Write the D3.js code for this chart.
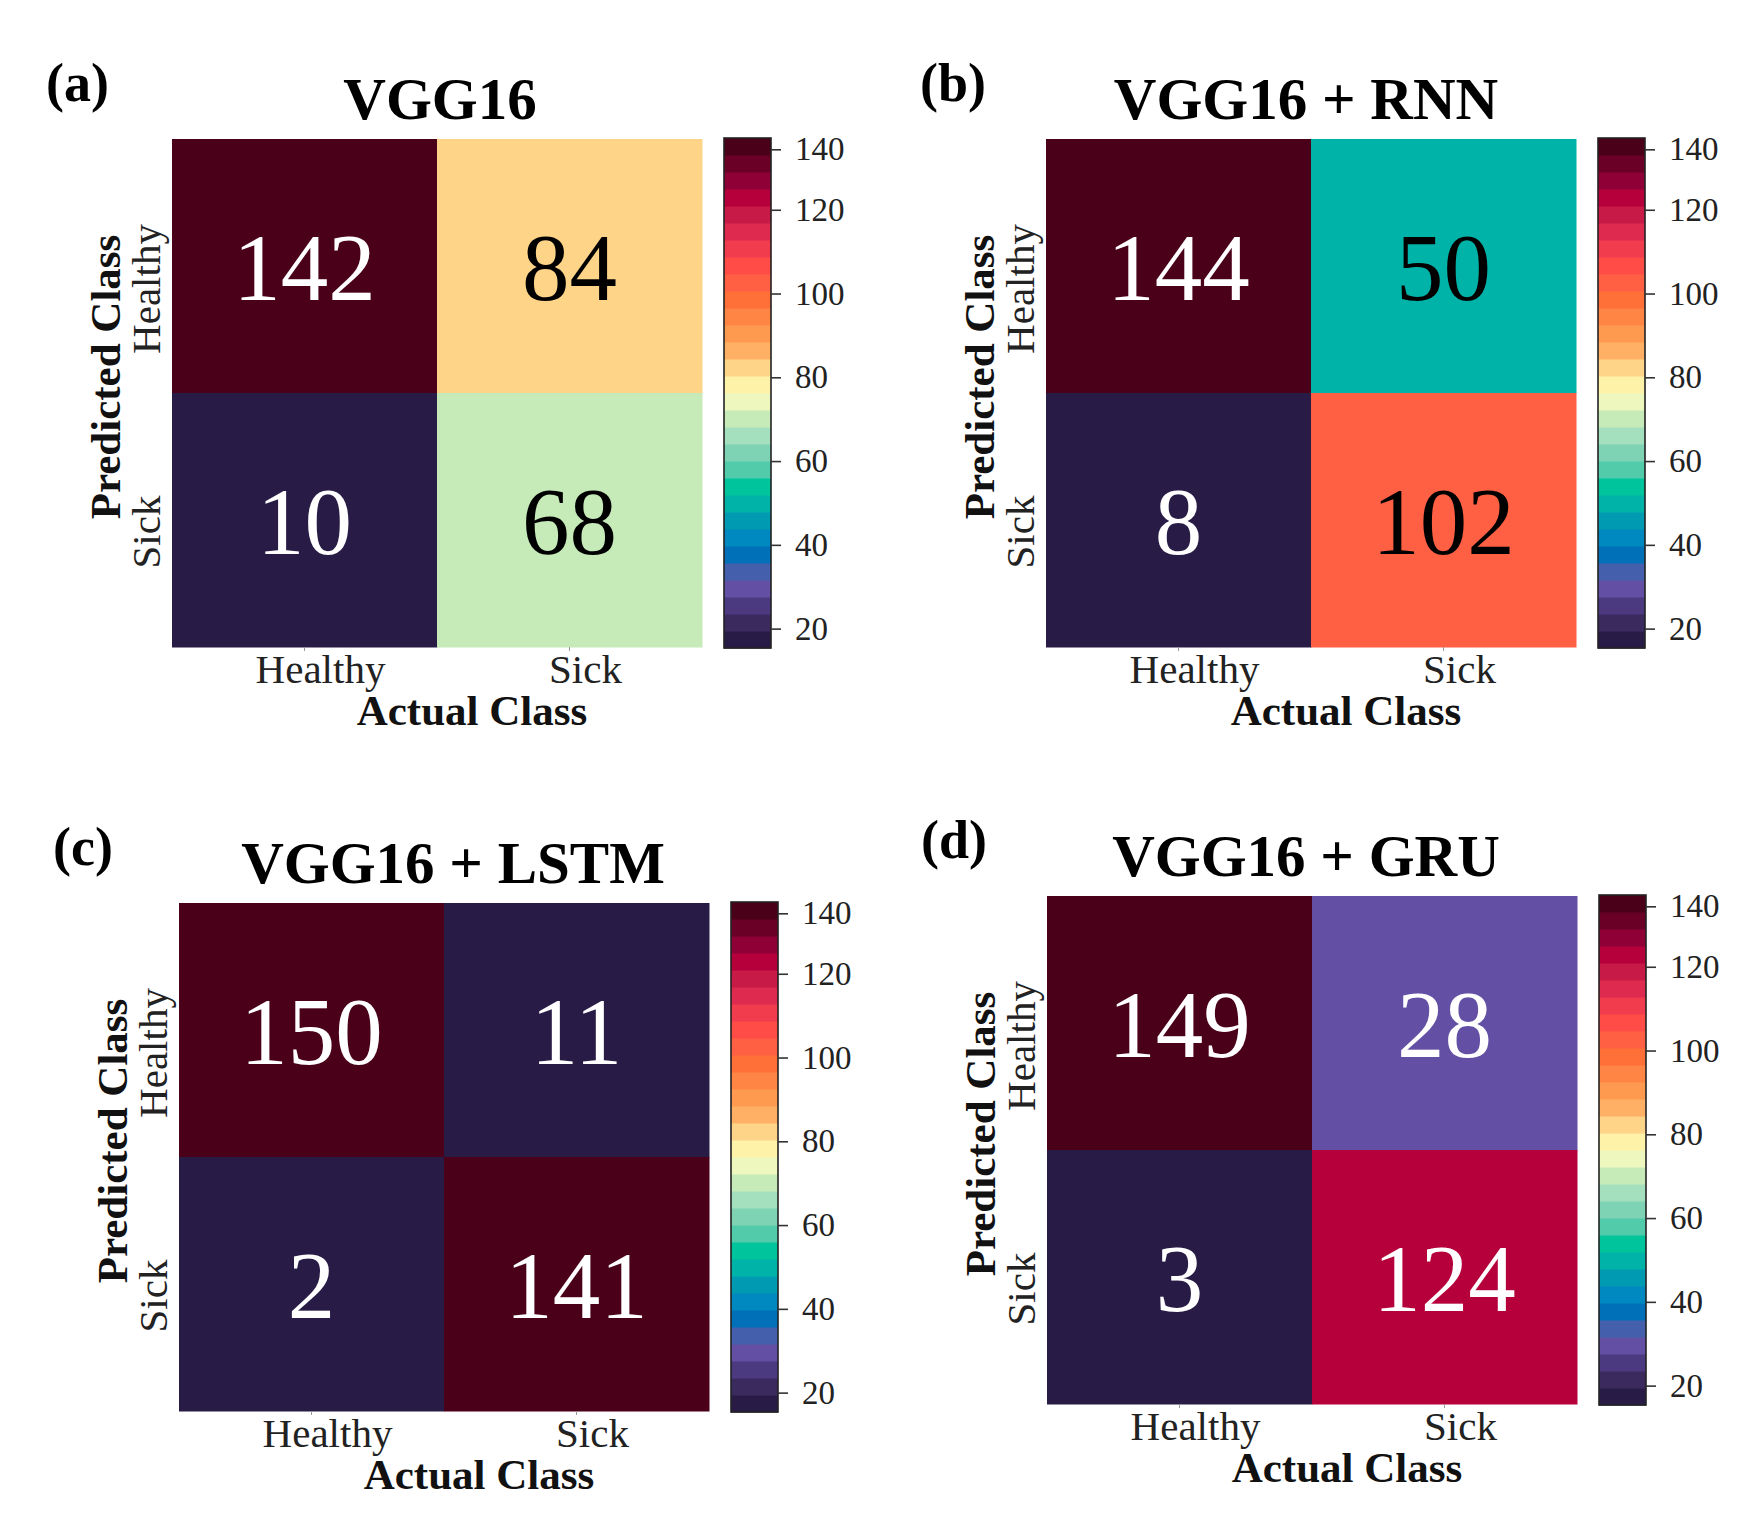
<!DOCTYPE html>
<html>
<head>
<meta charset="utf-8">
<script src="https://cdn.jsdelivr.net/npm/d3@7"></script>
<style>
  html, body { margin: 0; padding: 0; background: #ffffff; }
  svg { display: block; }
  text { font-family: "Liberation Serif", "DejaVu Serif", serif; }
</style>
</head>
<body>
<div id="chart"></div>
<script>
// ---------------- data ----------------
const panelLabels = ["(a)", "(b)", "(c)", "(d)"];
const titles = ["VGG16", "VGG16 + RNN", "VGG16 + LSTM", "VGG16 + GRU"];
const classes = ["Healthy", "Sick"];           // rows = predicted, columns = actual
const xAxisTitle = "Actual Class";
const yAxisTitle = "Predicted Class";

const vgg16   = [[142, 84], [10, 68]];
const vggRnn  = [[144, 50], [8, 102]];
const vggLstm = [[150, 11], [2, 141]];
const vggGru  = [[149, 28], [3, 124]];
const matrices = [vgg16, vggRnn, vggLstm, vggGru];

const colorbarTicks = [20, 40, 60, 80, 100, 120, 140];
const colorDomain = [13, 139];
// discrete colour bands, bottom (low) to top (high)
const palette = [
  "#281c46", "#3a2a5e", "#4c3a80", "#6350a4", "#4460ac", "#0070b8",
  "#0088c0", "#009ab2", "#00b3a8", "#00c49c", "#52cbab", "#7ed3b4",
  "#a4e0be", "#c6ebb9", "#eef8be", "#fef1a8", "#fed488", "#ffb064",
  "#fe9a50", "#fe8544", "#ff7038", "#ff6044", "#ff4c46", "#f03c4c",
  "#de2a4e", "#c81a47", "#b5003c", "#8e0036", "#6b0026", "#4a0018"
];

// ---------------- layout ----------------
const width = 1741, height = 1535;
const W = 530, H = 508;
const cbGap = 22, cbW = 47;
const origins = [
  { x: 172,  y: 139, tx: 440  },
  { x: 1046, y: 139, tx: 1306 },
  { x: 179,  y: 903, tx: 453  },
  { x: 1047, y: 896, tx: 1306 }
];

const color = d3.scaleQuantize().domain(colorDomain).range(palette);

const svg = d3.select("#chart").append("svg")
  .attr("width", width).attr("height", height)
  .attr("viewBox", [0, 0, width, height]);
svg.append("rect").attr("width", width).attr("height", height).attr("fill", "#fff");

matrices.forEach((m, p) => {
  const o = origins[p];
  const g = svg.append("g").attr("transform", `translate(${o.x},${o.y})`);

  const x = d3.scaleBand().domain(classes).range([0, W]);
  const y = d3.scaleBand().domain(classes).range([0, H]);

  const cells = [];
  classes.forEach((r, i) => classes.forEach((c, j) => cells.push({ r, c, v: m[i][j] })));

  g.selectAll("rect.cell").data(cells).join("rect")
    .attr("class", "cell")
    .attr("x", d => x(d.c)).attr("y", d => y(d.r))
    .attr("width", x.bandwidth() + 0.5).attr("height", y.bandwidth() + 0.5)
    .attr("fill", d => color(d.v));

  g.selectAll("text.val").data(cells).join("text")
    .attr("class", "val")
    .attr("x", d => x(d.c) + x.bandwidth() / 2)
    .attr("y", d => y(d.r) + y.bandwidth() / 2 + 34)
    .attr("text-anchor", "middle")
    .attr("font-size", 95)
    .attr("fill", d => d3.lab(color(d.v)).l > 50 ? "#000" : "#fff")
    .text(d => d.v);

  // x ticks (tiny) and labels
  g.selectAll("line.xt").data(classes).join("line")
    .attr("x1", d => x(d) + x.bandwidth() / 2).attr("x2", d => x(d) + x.bandwidth() / 2)
    .attr("y1", H).attr("y2", H + 4)
    .attr("stroke", "#999").attr("stroke-width", 1);
  g.selectAll("text.xl").data(classes).join("text")
    .attr("class", "xl")
    .attr("x", d => x(d) + x.bandwidth() / 2 + 16)
    .attr("y", H + 36)
    .attr("text-anchor", "middle")
    .attr("font-size", 41).attr("fill", "#222")
    .text(d => d);

  // y tick labels (rotated)
  const yOff = { "Healthy": 23, "Sick": 12 };
  g.selectAll("text.yl").data(classes).join("text")
    .attr("class", "yl")
    .attr("transform", d => `translate(-12,${y(d) + y.bandwidth() / 2 + yOff[d]}) rotate(-90)`)
    .attr("text-anchor", "middle")
    .attr("font-size", 41).attr("fill", "#222")
    .text(d => d);

  // axis titles
  g.append("text")
    .attr("x", W / 2 + 35).attr("y", H + 78)
    .attr("text-anchor", "middle")
    .attr("font-size", 43).attr("font-weight", "bold").attr("fill", "#111")
    .text(xAxisTitle);
  g.append("text")
    .attr("transform", `translate(-52,${H / 2 - 16}) rotate(-90)`)
    .attr("text-anchor", "middle")
    .attr("font-size", 43).attr("font-weight", "bold").attr("fill", "#111")
    .text(yAxisTitle);

  // title and panel label
  svg.append("text")
    .attr("x", o.tx).attr("y", o.y - 20)
    .attr("text-anchor", "middle")
    .attr("font-size", 59).attr("font-weight", "bold").attr("fill", "#000")
    .text(titles[p]);
  svg.append("text")
    .attr("x", o.x - 126).attr("y", o.y - 38)
    .attr("font-size", 54).attr("font-weight", "bold").attr("fill", "#000")
    .text(panelLabels[p]);

  // colorbar
  const cbH = H + 2;
  const cb = g.append("g").attr("transform", `translate(${W + cbGap},-1)`);
  const bands = d3.scaleBand().domain(d3.range(palette.length)).range([cbH, 0]);
  cb.selectAll("rect.band").data(palette).join("rect")
    .attr("class", "band")
    .attr("x", 0).attr("y", (d, i) => bands(i))
    .attr("width", cbW).attr("height", bands.bandwidth() + 0.5)
    .attr("fill", d => d);
  cb.append("rect")
    .attr("width", cbW).attr("height", cbH)
    .attr("fill", "none").attr("stroke", "#222").attr("stroke-width", 1.6);

  const tickScale = d3.scaleLinear()
    .domain([20, 120, 140])
    .range([0.962 * cbH, 0.1407 * cbH, 0.0222 * cbH]);
  const axis = d3.axisRight(tickScale).tickValues(colorbarTicks).tickSize(10).tickPadding(14);
  const ax = cb.append("g").attr("transform", `translate(${cbW},0)`).call(axis);
  ax.select(".domain").remove();
  ax.selectAll(".tick line").attr("stroke", "#333").attr("stroke-width", 1.6);
  ax.selectAll(".tick text")
    .attr("font-size", 33).attr("fill", "#222")
    .attr("font-family", "Liberation Serif, DejaVu Serif, serif");
});
</script>
</body>
</html>
